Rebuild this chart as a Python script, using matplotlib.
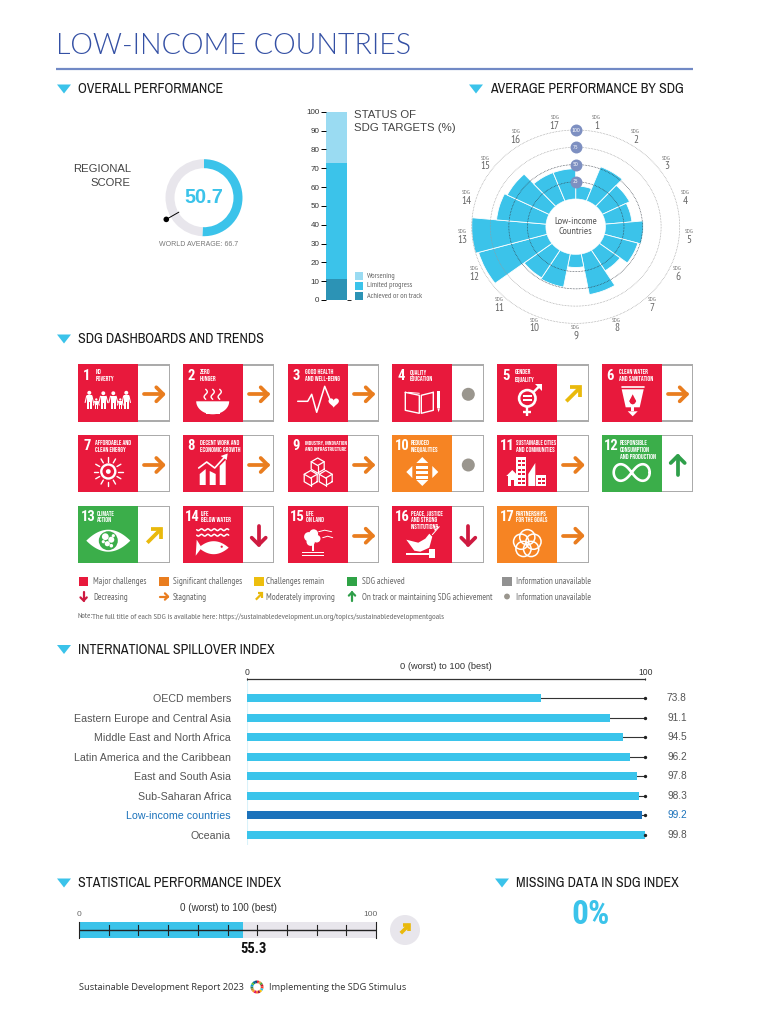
import numpy as np
import matplotlib
matplotlib.use('Agg')
import matplotlib.pyplot as plt
from matplotlib import font_manager as fm
from matplotlib.patches import Rectangle, Circle, Polygon

# ---------- data ----------
regional_score = 50.7
world_average = 66.7
status_labels = ['Achieved or on track', 'Limited progress', 'Worsening']
status_values = [11, 62, 27]
status_ticks = [0, 10, 20, 30, 40, 50, 60, 70, 80, 90, 100]
sdg_numbers = list(range(1, 18))
sdg_scores = [19, 53, 41, 36, 51, 47, 35, 60, 19, 49, 47, 96, 100, 67, 63, 44, 44]
ring_values = [25, 50, 75, 100]
sdg_titles = ['NO\nPOVERTY', 'ZERO\nHUNGER', 'GOOD HEALTH\nAND WELL-BEING', 'QUALITY\nEDUCATION',
              'GENDER\nEQUALITY', 'CLEAN WATER\nAND SANITATION', 'AFFORDABLE AND\nCLEAN ENERGY',
              'DECENT WORK AND\nECONOMIC GROWTH', 'INDUSTRY, INNOVATION\nAND INFRASTRUCTURE',
              'REDUCED\nINEQUALITIES', 'SUSTAINABLE CITIES\nAND COMMUNITIES',
              'RESPONSIBLE\nCONSUMPTION\nAND PRODUCTION', 'CLIMATE\nACTION', 'LIFE\nBELOW WATER',
              'LIFE\nON LAND', 'PEACE, JUSTICE\nAND STRONG\nINSTITUTIONS', 'PARTNERSHIPS\nFOR THE GOALS']
sdg_status = ['major'] * 9 + ['significant', 'major', 'achieved', 'achieved', 'major', 'major', 'major', 'significant']
sdg_trend = ['right', 'right', 'right', 'dot', 'ne', 'right', 'right', 'right', 'right', 'dot', 'right',
             'up', 'ne', 'down', 'right', 'down', 'right']
spill_regions = ['OECD members', 'Eastern Europe and Central Asia', 'Middle East and North Africa',
                 'Latin America and the Caribbean', 'East and South Asia', 'Sub-Saharan Africa',
                 'Low-income countries', 'Oceania']
spill_values = [73.8, 91.1, 94.5, 96.2, 97.8, 98.3, 99.2, 99.8]
spi_value = 55.3
spi_ticks = [0, 10, 20, 30, 40, 50, 60, 70, 80, 90, 100]
missing_data = '0%'
wheel_colors = ['#E5243B', '#DDA63A', '#4C9F38', '#C5192D', '#FF3A21', '#26BDE2', '#FCC30B', '#A21942', '#FD6925',
                '#DD1367', '#FD9D24', '#BF8B2E', '#3F7E44', '#0A97D9', '#56C02B', '#00689D', '#19486A']

# ---------- fonts ----------
avail = {f.name for f in fm.fontManager.ttflist}
def pick(*names):
    for n in names:
        if n in avail:
            return n
    return 'DejaVu Sans'
HEAD = pick('Archivo Narrow', 'Liberation Sans Narrow', 'Roboto')
BODY = pick('Liberation Sans', 'Roboto')
COND = pick('PT Sans Narrow', 'Liberation Sans Narrow', 'Roboto')
TILE = pick('Bebas Neue', 'Oswald', 'Liberation Sans Narrow', 'Roboto')
NUMF = pick('Roboto Condensed', 'Archivo Narrow', 'Liberation Sans Narrow', 'Roboto')
FOOT = pick('Open Sans', 'Roboto')
THIN = pick('Lato', 'Roboto')

CYAN = '#3BC3EA'
W, H = 768, 1024
fig = plt.figure(figsize=(W / 100, H / 100), dpi=100, facecolor='white')
def axpx(x0, y0, x1, y1, **kw):
    return fig.add_axes([x0 / W, 1 - y1 / H, (x1 - x0) / W, (y1 - y0) / H], **kw)

g = fig.add_axes([0, 0, 1, 1], zorder=1)
g.set_xlim(0, W); g.set_ylim(H, 0); g.axis('off')
g.patch.set_alpha(0)

def T(x, y, s, size=8, color='#333333', ha='left', va='center', family=BODY, **kw):
    return g.text(x, y, s, fontsize=size, color=color, ha=ha, va=va, family=family, **kw)
def rect(x, y, w, h, c='white', z=3, **kw):
    g.add_patch(Rectangle((x, y), w, h, fc=c, ec='none', zorder=z, **kw))
def circ(x, y, r, fc='white', ec='none', lw=0, z=3):
    g.add_patch(Circle((x, y), r, fc=fc, ec=ec, lw=lw, zorder=z))
def poly(pts, c='white', z=3):
    g.add_patch(Polygon(pts, closed=True, fc=c, ec='none', zorder=z))
def line(pts, c='white', lw=1.0, z=3, cap='round', join='round'):
    p = np.array(pts, dtype=float)
    g.plot(p[:, 0], p[:, 1], color=c, lw=lw, zorder=z, solid_capstyle=cap, solid_joinstyle=join)

# ---------- header ----------
T(56, 45.5, 'LOW-INCOME COUNTRIES', 20.6, '#3450A4', family=THIN, weight=300)
line([(56, 69), (693, 69)], '#7189C5', 1.6, cap='butt')
def header(x, y, s):
    poly([(x, y - 4.5), (x + 14, y - 4.5), (x + 7, y + 4.5)], CYAN)
    T(x + 21, y, s, 10.05, '#1a1a1a', family=HEAD)
header(57, 89, 'OVERALL PERFORMANCE')
header(469, 89, 'AVERAGE PERFORMANCE BY SDG')
header(57, 339, 'SDG DASHBOARDS AND TRENDS')
header(57, 649.5, 'INTERNATIONAL SPILLOVER INDEX')
header(57, 883, 'STATISTICAL PERFORMANCE INDEX')
header(495, 883, 'MISSING DATA IN SDG INDEX')

# ---------- donut ----------
T(131, 168.5, 'REGIONAL', 8.1, '#444444', ha='right')
T(130, 182.5, 'SCORE', 8.1, '#444444', ha='right')
R = 38.5
cx, cy = 204, 197.7
ad = axpx(cx - R, cy - R, cx + R, cy + R)
ad.pie([regional_score, 100 - regional_score], colors=[CYAN, '#E8E6EC'], startangle=90, counterclock=False,
       radius=1, wedgeprops=dict(width=9 / 38.5))
ad.set_xlim(-1, 1); ad.set_ylim(-1, 1)
ang = 2 * np.pi * world_average / 100
d = np.array([np.sin(ang), -np.cos(ang)])
line([(cx + d[0] * 29, cy + d[1] * 29), (cx + d[0] * 43.5, cy + d[1] * 43.5)], 'black', 0.7, z=5)
circ(cx + d[0] * 43.5, cy + d[1] * 43.5, 2.8, 'black', z=6)
T(204, 197.5, f'{regional_score}', 14.3, CYAN, ha='center', weight='bold')
T(199, 244.5, f'WORLD AVERAGE: {world_average}', 5.0, '#777777', ha='center')

# ---------- stacked status bar ----------
ab = axpx(326, 111.7, 346.7, 300)
bottom = 0
for v, c in zip(status_values, ['#2C93B5', CYAN, '#9ADBF2']):
    ab.bar(0, v, bottom=bottom, width=1, color=c)
    bottom += v
ab.set_xlim(-0.5, 0.5); ab.set_ylim(0, 100)
for s in ab.spines.values():
    s.set_visible(False)
ab.set_xticks([])
ab.set_yticks(status_ticks)
ab.set_yticklabels([str(t) for t in status_ticks], fontsize=5.8, color='#333333', family=BODY)
ab.tick_params(axis='y', length=3.6, width=0.7, pad=1)
line([(346.7, 300), (351, 300)], '#222222', 0.7, cap='butt')
T(354, 115, 'STATUS OF', 8.2, '#444444')
T(354, 128, 'SDG TARGETS (%)', 8.2, '#444444')
for (lab, c, yy) in zip(status_labels[::-1], ['#9ADBF2', CYAN, '#2C93B5'], [276, 285.5, 296]):
    rect(355, yy - 4, 8, 8, c)
    T(367, yy, lab, 5.7, '#666666', family=COND)

# ---------- polar ----------
RX, RY = 104, 96.7
pcx, pcy = 575.7, 226.7
ap = axpx(pcx - RX, pcy - RY, pcx + RX, pcy + RY, projection='polar')
ap.set_aspect('auto')
ap.set_theta_zero_location('N'); ap.set_theta_direction(-1)
ap.set_rorigin(-40); ap.set_rlim(0, 100)
ap.grid(False); ap.set_xticks([]); ap.set_yticks([])
for sp in ap.spines.values():
    sp.set_edgecolor('none')
    sp.set_linewidth(0)
width = 2 * np.pi / 17
thetas = np.arange(17) * width
ap.bar(thetas, sdg_scores, width=width, align='edge', color=CYAN, edgecolor='white', linewidth=0.6, zorder=2)
tt = np.linspace(0, 2 * np.pi, 361)
for rv, c in zip(ring_values, ['#333a44', '#333a44', '#9a9a9a', '#9a9a9a']):
    ap.plot(tt, np.full_like(tt, rv), color=c, lw=0.5, ls=(0, (1, 1.2)), zorder=3, clip_on=False)
for rv in ring_values:
    ap.plot([0], [rv], 'o', ms=8.6, color='#7D8FC1', mec='none', zorder=4, clip_on=False)
    ap.text(0, rv, str(rv), fontsize=4.6, color='white', ha='center', va='center', family=COND, zorder=5)
for n, th in zip(sdg_numbers, thetas + width / 2):
    ap.annotate('SDG', xy=(th, 113), xytext=(0, 3.6), textcoords='offset points', ha='center', va='center',
                fontsize=4.4, color='#777777', family=COND, annotation_clip=False)
    ap.annotate(str(n), xy=(th, 113), xytext=(0, -2.2), textcoords='offset points', ha='center', va='center',
                fontsize=8, color='#666666', family=COND, annotation_clip=False)
ap.text(0, -40, 'Low-income\nCountries', fontsize=7.4, color='#555555', ha='center', va='center', family=COND,
        linespacing=1.15, zorder=6)
ap.patch.set_alpha(0)

# ---------- SDG tiles ----------
col_x = [78.3, 182.7, 287.7, 392.3, 497.3, 601.7]
row_y = [364.3, 435, 505.7]
TW, TH, CW = 91.7, 57.4, 60
status_col = {'major': '#E8193C', 'significant': '#F68423', 'achieved': '#3BAE4A'}
ORG, YEL, GRN, RED, GRY = '#E97D1F', '#E9B90C', '#2F9F4A', '#CE1A40', '#9A968E'

def arrow(kind, x, y, s=1.0, lw=2.7):
    if kind == 'right':
        line([(x - 10 * s, y), (x + 9 * s, y)], ORG, lw, z=4)
        line([(x + 2 * s, y - 7 * s), (x + 9 * s, y), (x + 2 * s, y + 7 * s)], ORG, lw, z=4)
    elif kind == 'down':
        line([(x, y - 10 * s), (x, y + 9 * s)], RED, lw, z=4)
        line([(x - 7 * s, y + 2 * s), (x, y + 9 * s), (x + 7 * s, y + 2 * s)], RED, lw, z=4)
    elif kind == 'up':
        line([(x, y + 10 * s), (x, y - 9 * s)], GRN, lw, z=4)
        line([(x - 7 * s, y - 2 * s), (x, y - 9 * s), (x + 7 * s, y - 2 * s)], GRN, lw, z=4)
    elif kind == 'ne':
        line([(x - 7 * s, y + 7 * s), (x + 7 * s, y - 7 * s)], YEL, lw, z=4, cap='butt')
        line([(x - 3 * s, y - 7 * s), (x + 7 * s, y - 7 * s), (x + 7 * s, y + 3 * s)], YEL, lw, z=4, cap='butt', join='miter')
    elif kind == 'dot':
        circ(x, y, 6.5 * s, GRY, z=4)

def person(x, top, h, w):
    circ(x, top + h * 0.11, h * 0.11)
    rect(x - w / 2, top + h * 0.24, w, h * 0.40)
    rect(x - w / 2 + 0.1, top + h * 0.6, w * 0.38, h * 0.40)
    rect(x + w * 0.1, top + h * 0.6, w * 0.38, h * 0.40)
    line([(x - w / 2, top + h * .28), (x - w * .8, top + h * .65)], lw=.8)
    line([(x + w / 2, top + h * .28), (x + w * .8, top + h * .65)], lw=.8)

def heart(x, y, s, c='white'):
    t = np.linspace(0, 2 * np.pi, 60)
    poly(np.c_[x + s * (16 * np.sin(t) ** 3) / 16,
               y - s * (13 * np.cos(t) - 5 * np.cos(2 * t) - 2 * np.cos(3 * t) - np.cos(4 * t)) / 16], c)

def hexcube(x, y, r, bg):
    a = np.deg2rad(np.arange(30, 390, 60))
    p = np.c_[x + r * np.cos(a), y + r * np.sin(a)]
    poly(p, bg, z=3)
    line(list(p) + [p[0]], lw=.9, z=3)
    line([(x, y), p[1]], lw=.9, z=3)
    line([(x, y), p[3]], lw=.9, z=3)
    line([(x, y), p[5]], lw=.9, z=3)

def draw_icon(n, x, y, bg):
    P = lambda pts: [(x + a, y + b) for a, b in pts]
    if n == 1:
        for dx, top, h, w in [(11, 26.5, 18, 5.2), (25, 27, 17.5, 5.6), (35, 27, 17.5, 5.6), (48, 26.5, 18, 5.2),
                              (18, 34, 10.5, 3.6), (42, 34, 10.5, 3.6)]:
            person(x + dx, y + top, h, w)
    elif n == 2:
        t = np.linspace(np.pi, 2 * np.pi, 40)
        poly(P(np.c_[30 + 16.5 * np.cos(t), 37 - 13 * np.sin(t)]))
        rect(x + 23, y + 47.5, 14, 2.5)
        for dx in (23, 30, 37):
            s = np.linspace(0, 1, 20)
            line(P(np.c_[dx + 1.6 * np.sin(s * 2 * np.pi), 25 + 10 * s]), lw=1.0)
    elif n == 3:
        line(P([(10, 37), (20, 37), (24, 30), (29, 48), (37, 22), (43, 37)]), lw=1.1)
        heart(x + 46, y + 38, 5.2)
    elif n == 4:
        line(P([(13, 28), (27, 31), (27, 49), (13, 46), (13, 28)]), lw=1.0)
        line(P([(41, 28), (29, 31), (29, 49), (41, 46), (41, 28)]), lw=1.0)
        line(P([(16, 28), (27, 29)]), lw=.7)
        rect(x + 45, y + 27, 2.6, 17)
        poly(P([(45, 44), (47.6, 44), (46.3, 48)]))
    elif n == 5:
        circ(x + 30, y + 34, 8.2, 'none', 'white', 1.9)
        rect(x + 25.5, y + 31, 9, 2); rect(x + 25.5, y + 35, 9, 2)
        line(P([(30, 43), (30, 52)]), lw=1.7, cap='butt')
        line(P([(26, 48), (34, 48)]), lw=1.7, cap='butt')
        line(P([(36, 28), (43, 21)]), lw=1.7, cap='butt')
        poly(P([(38, 20), (45, 20), (45, 27)]))
    elif n == 6:
        line(P([(20, 23), (42, 23)]), lw=1.2)
        poly(P([(20, 25), (42, 25), (38, 43), (24, 43)]))
        poly(P([(31, 30), (34.5, 37), (31, 40), (27.5, 37)]), bg, z=4)
        circ(x + 31, y + 37, 3, bg, z=4)
        rect(x + 29.5, y + 43, 3, 4)
        poly(P([(26, 47), (36, 47), (31, 52)]))
    elif n == 7:
        circ(x + 30, y + 36.5, 7, 'none', 'white', 1.7)
        circ(x + 30, y + 36.5, 2.4, 'white')
        for a in np.arange(0, 360, 30):
            a = np.deg2rad(a)
            line(P([(30 + 10 * np.cos(a), 36.5 + 10 * np.sin(a)), (30 + 14.5 * np.cos(a), 36.5 + 14.5 * np.sin(a))]), lw=1.0)
    elif n == 8:
        poly(P([(17, 50), (17, 39), (23, 34), (23, 50)]))
        poly(P([(27, 50), (27, 36), (33, 39), (33, 50)]))
        poly(P([(37, 50), (37, 31), (43, 25), (43, 50)]))
        line(P([(16, 33), (24, 27), (32, 33), (42, 22)]), lw=1.2)
        poly(P([(38, 21), (45, 18.5), (44, 25)]))
    elif n == 9:
        hexcube(x + 30, y + 30.5, 7.5, bg)
        hexcube(x + 23, y + 43, 7.5, bg)
        hexcube(x + 38, y + 43, 7.5, bg)
    elif n == 10:
        poly(P([(24, 28), (36, 28), (30, 22)])); poly(P([(24, 45), (36, 45), (30, 51)]))
        poly(P([(20, 31), (20, 43), (14, 37)])); poly(P([(40, 31), (40, 43), (46, 37)]))
        for dy in (30.5, 35.5, 40.5):
            rect(x + 24, y + dy, 12, 3)
    elif n == 11:
        rect(x + 19, y + 22, 10, 29); rect(x + 39, y + 40, 10, 11)
        poly(P([(31, 51), (31, 39), (38, 28), (38, 51)]))
        poly(P([(9, 41), (15, 35), (21, 41)])); rect(x + 11, y + 41, 8, 10)
        for a in np.arange(24.5, 50, 4.5):
            rect(x + 21, y + a, 2.2, 2.4, bg, z=4); rect(x + 25, y + a, 2.2, 2.4, bg, z=4)
        rect(x + 13.5, y + 45, 3, 6, bg, z=4)
        for a in (43, 47):
            rect(x + 41, y + a, 2.2, 2, bg, z=4); rect(x + 45, y + a, 2.2, 2, bg, z=4)
    elif n == 12:
        t = np.linspace(0, 2 * np.pi, 120)
        line(P(np.c_[30 + 18 * np.cos(t) / (1 + np.sin(t) ** 2), 37.5 + 18 * np.sin(t) * np.cos(t) / (1 + np.sin(t) ** 2) * 1.3]), lw=1.9)
    elif n == 13:
        t = np.linspace(-1, 1, 40)
        poly(P(np.r_[np.c_[30 + 22 * t, 35 - 11 * (1 - t ** 2)], np.c_[30 - 22 * t, 35 + 11 * (1 - t ** 2)]]))
        circ(x + 30, y + 35, 9.5, bg, z=4)
        for a, b, r in [(27, 31, 3.4), (33, 34, 3), (29, 38, 2.6), (35, 30, 1.6), (25, 36, 1.6), (33, 40, 1.8)]:
            circ(x + a, y + b, r, 'white', z=5)
    elif n == 14:
        for dy in (24, 29.5):
            s = np.linspace(0, 1, 50)
            line(P(np.c_[14 + 32 * s, dy + 0.9 * np.sin(s * 5 * 2 * np.pi)]), lw=1.1)
        t = np.linspace(-1, 1, 30)
        poly(P(np.r_[np.c_[31 + 15 * t, 42 - 6.5 * (1 - t ** 2)], np.c_[31 - 15 * t, 42 + 6.5 * (1 - t ** 2)]]))
        poly(P([(19, 42), (14, 34), (13, 50)]))
        circ(x + 39, y + 41, 1.1, bg, z=4)
    elif n == 15:
        circ(x + 21, y + 31, 4.6); circ(x + 26, y + 28, 4.4); circ(x + 29, y + 33, 3.8); circ(x + 23, y + 36, 4.2)
        rect(x + 24, y + 36, 2.4, 9)
        rect(x + 14, y + 46, 22, 1.6); rect(x + 14, y + 49, 22, 1.6)
        line(P([(31, 26), (37, 24.5), (44, 26)]), lw=.7); line(P([(35, 32), (40, 30.5), (45, 32)]), lw=.7)
    elif n == 16:
        poly(P([(14, 34), (26, 37), (33, 33), (37, 28), (40, 31), (37, 42), (28, 46), (22, 45)]))
        line(P([(40, 29), (47, 21)]), lw=.7)
        for a, b in [(43, 24), (45, 21), (42, 21)]:
            circ(x + a, y + b, 1)
        rect(x + 14, y + 47, 24, 1.8)
        rect(x + 37, y + 43, 6, 9)
    elif n == 17:
        for a in np.deg2rad(-90 + np.arange(5) * 72):
            circ(x + 30 + 6.5 * np.cos(a), y + 38 + 6.5 * np.sin(a), 7.6, 'none', 'white', 1.1)

renderer = fig.canvas.get_renderer()
def draw_tile(i):
    n = sdg_numbers[i]
    x = col_x[i % 6]; y = row_y[i // 6]
    bg = status_col[sdg_status[i]]
    rect(x, y, TW, TH, '#ABABAB', z=2)
    rect(x + 1.3, y + 1.3, TW - 2.6, TH - 2.6, 'white', z=2)
    rect(x, y, CW, TH, bg, z=2.5)
    T(x + (8.5 if n < 10 else 9.5), y + 11.5, str(n), 10.5, 'white', ha='center', family=NUMF, weight='bold', zorder=4)
    x0 = x + (17 if n < 10 else 18.5)
    avail_w = x + CW - 1.5 - x0
    for k, part in enumerate(sdg_titles[i].split('\n')):
        t = T(x0, y + 7.4 + k * 6.9, part, 5.0, 'white', family=TILE, zorder=4)
        w = t.get_window_extent(renderer).width
        if w > avail_w:
            t.set_fontsize(5.0 * avail_w / w)
    draw_icon(n, x, y, bg)
    arrow(sdg_trend[i], x + 76, y + 30)
for i in range(17):
    draw_tile(i)

# tile legend
leg_x = [78.6, 159, 254, 347, 502]
leg_lab = ['Major challenges', 'Significant challenges', 'Challenges remain', 'SDG achieved', 'Information unavailable']
leg_col = ['#E8193C', '#E97D1F', '#EDBE0E', '#2FA346', '#919191']
leg_txt = [93, 173, 266.5, 362, 515.5]
for a, b, c, t in zip(leg_x, leg_lab, leg_col, leg_txt):
    rect(a, 576.5, 9.5, 9.5, c)
    T(t, 581.5, b, 6.5, '#666666', family=COND)
leg_lab2 = ['Decreasing', 'Stagnating', 'Moderately improving', 'On track or maintaining SDG achievement', 'Information unavailable']
leg_kind = ['down', 'right', 'ne', 'up', 'dot']
for a, b, k, t in zip(leg_x, leg_lab2, leg_kind, leg_txt):
    arrow(k, a + 5, 596.5, 0.45, 1.6)
    T(t, 597, b, 6.5, '#666666', family=COND)
T(78, 617, 'Note:', 5.9, '#666666', family=COND, style='italic')
T(92.5, 617, 'The full title of each SDG is available here: https://sustainabledevelopment.un.org/topics/sustainabledevelopmentgoals',
  6.1, '#666666', family=COND)

# ---------- spillover ----------
top, bot = 679, 845
step = 19.53
a2 = axpx(247, top, 645.4, bot)
ys = np.arange(len(spill_regions))
colors = ['#1B72BB' if r == 'Low-income countries' else '#3AC4EB' for r in spill_regions]
a2.barh(ys, spill_values, height=0.41, color=colors, zorder=2)
for y0, v in zip(ys, spill_values):
    a2.plot([v, 100], [y0, y0], color='#333333', lw=0.8, zorder=1, clip_on=False)
    a2.plot([100], [y0], 'o', ms=1.4, color='#222222', zorder=3, clip_on=False)
a2.set_xlim(0, 100)
a2.set_ylim((bot - 698.3) / step, (top - 698.3) / step)
for k, s in a2.spines.items():
    s.set_visible(k == 'top')
a2.spines['top'].set_linewidth(0.9); a2.spines['top'].set_color('#333333')
a2.axvline(0, color='#D9F2FA', lw=0.8, zorder=0)
a2.xaxis.tick_top()
a2.set_xticks([0, 100]); a2.set_xticklabels(['0', '100'], fontsize=6.2, color='#333333', family=BODY)
a2.tick_params(axis='x', length=2, width=0.6, pad=0.5, direction='inout')
a2.set_yticks(ys); a2.set_yticklabels(spill_regions, fontsize=7.65, family=BODY, color='#555555')
a2.tick_params(axis='y', length=0, pad=11.5)
for lab, r in zip(a2.get_yticklabels(), spill_regions):
    if r == 'Low-income countries':
        lab.set_color('#1B72BB')
T(446, 666.7, '0 (worst) to 100 (best)', 6.7, '#333333', ha='center')
for y0, v, r in zip(ys, spill_values, spill_regions):
    T(667, 698.3 + y0 * step, f'{v}', 7.3, '#1B72BB' if r == 'Low-income countries' else '#555555')

# ---------- SPI ----------
a3 = axpx(79, 922, 376, 938)
a3.barh(0, 100, height=1, color='#E8E6EC', zorder=1)
a3.barh(0, spi_value, height=1, color=CYAN, zorder=2)
a3.set_xlim(0, 100); a3.set_ylim(-0.5, 0.5)
a3.axis('off')
a3.plot([0, 100], [0, 0], color='#222222', lw=1.0, zorder=3)
for t in spi_ticks:
    h = 0.5 if t in (0, 100) else 0.3
    a3.plot([t, t], [-h, h], color='#222222', lw=0.8, zorder=3, clip_on=False)
T(228, 907.7, '0 (worst) to 100 (best)', 7.1, '#333333', ha='center')
T(79, 915, '0', 6, '#666666', ha='center')
T(370, 915, '100', 6, '#666666', ha='center')
T(253.5, 948.7, f'{spi_value}', 10.5, '#111111', ha='center', family=NUMF, weight='bold')
circ(405, 930, 15, '#E8E6EC')
arrow('ne', 405, 929, 0.6, 2.6)
T(591, 915, missing_data, 24, CYAN, ha='center', family=NUMF, weight='bold')

# ---------- footer ----------
T(79, 987, 'Sustainable Development Report 2023', 6.65, '#333333', family=FOOT)
T(269, 987, 'Implementing the SDG Stimulus', 6.65, '#333333', family=FOOT)
aw = axpx(250.5, 980.5, 263.5, 993.5)
aw.pie([1] * 17, colors=wheel_colors, startangle=90, counterclock=False, radius=1, wedgeprops=dict(width=0.42))
aw.set_xlim(-1, 1); aw.set_ylim(-1, 1)

fig.savefig('out.png', dpi=100, facecolor='white')
